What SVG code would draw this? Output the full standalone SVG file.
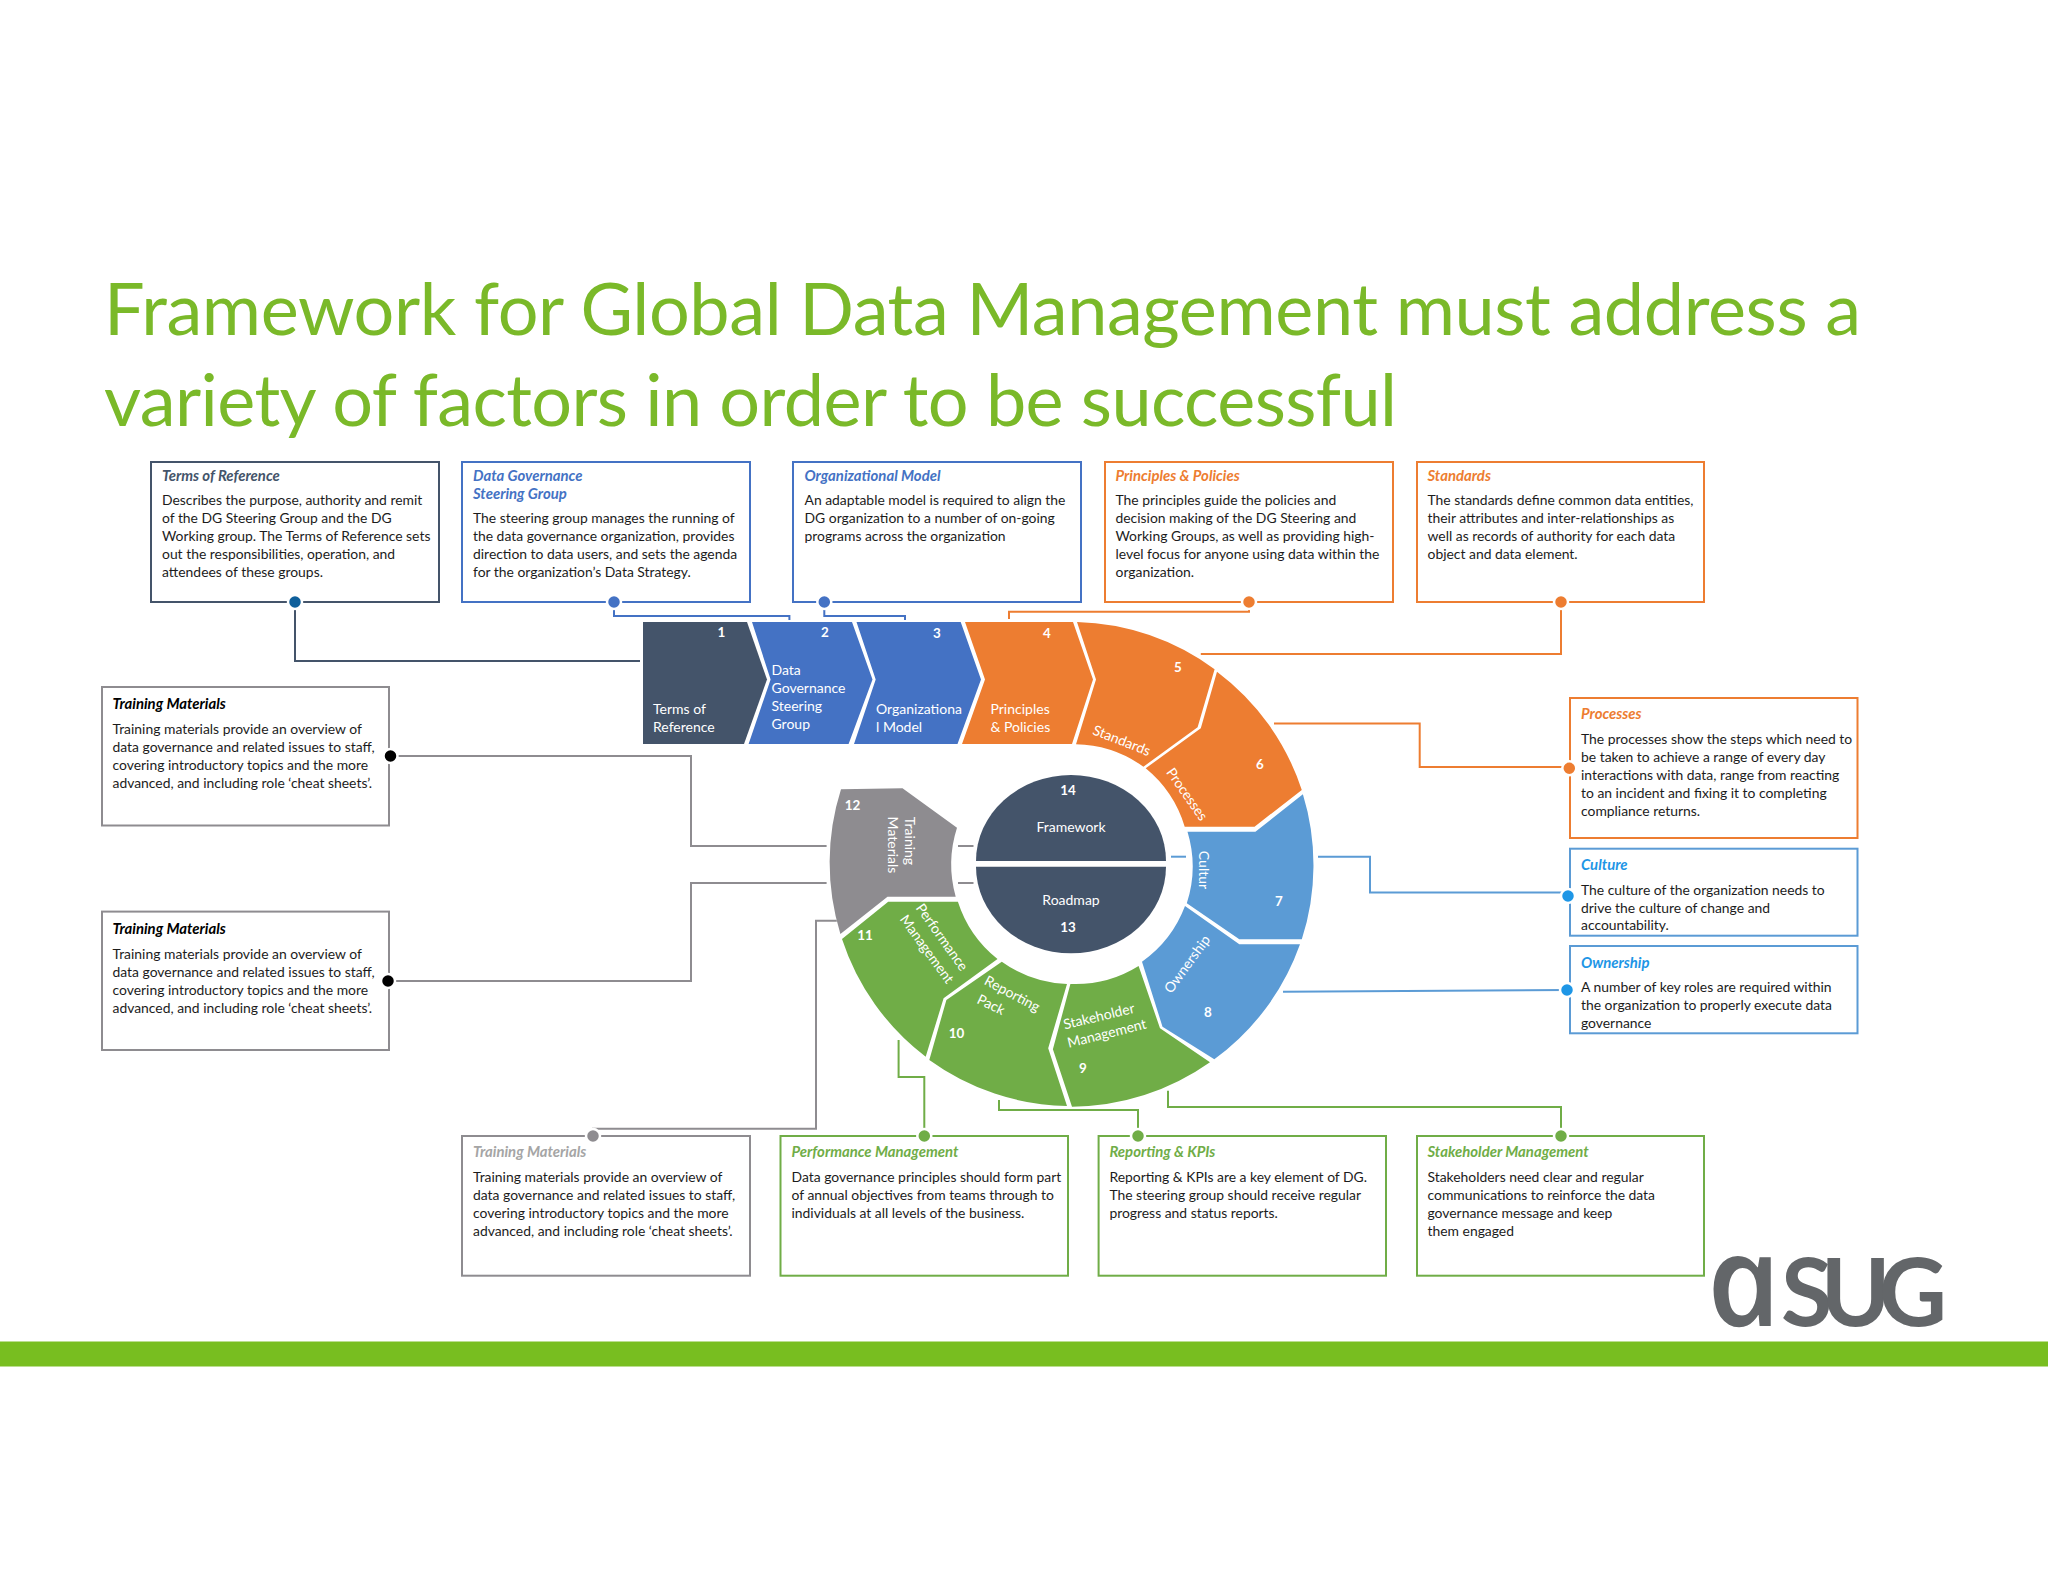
<svg xmlns="http://www.w3.org/2000/svg" width="2048" height="1582" viewBox="0 0 2048 1582">
<style>
text{font-family:"Lato","Carlito","Open Sans",sans-serif}
.title{font-size:72px;fill:#7AB929}
.b{font-size:13.9px;fill:#1c1c1c}
.h{font-size:14.9px;font-weight:700;font-style:italic}
.l{font-size:14px;fill:#fff}
.n{font-size:13.4px;fill:#fff;font-weight:700}
.m{text-anchor:middle}
.box{fill:#fff;stroke-width:2}
.c{fill:none;stroke-width:2}
.dot{stroke:#fff;stroke-width:2.5}
.dk{stroke:#44546A}.bl{stroke:#4472C4}.or{stroke:#ED7D31}.lb{stroke:#5B9BD5}.gr{stroke:#70AD47}.gy{stroke:#8E8C90}
.fdk{fill:#44546A}.fbl{fill:#4472C4}.for{fill:#ED7D31}.flb{fill:#5B9BD5}.fgr{fill:#70AD47}.fgy{fill:#8E8C90}
</style>
<rect width="2048" height="1582" fill="#fff"/>
<g id="title">
<text class="title" x="104" y="334.500" textLength="1757" lengthAdjust="spacing">Framework for Global Data Management must address a</text>
<text class="title" x="104" y="425.500" textLength="1293" lengthAdjust="spacing">variety of factors in order to be successful</text>
</g>
<rect id="footer-bar" x="0" y="1341.5" width="2048" height="25" fill="#78BE20"/>

<g id="connectors">
<path class="c dk" d="M295 602V661H640"/>
<path class="c bl" d="M614 602V616H789.4V620"/>
<path class="c bl" d="M824.3 602V616H905V620"/>
<path class="c or" d="M1249 602V611.7H1009V619"/>
<path class="c or" d="M1561 602V654H1200.8"/>
<path class="c or" d="M1274 723.5H1419.7V767H1569"/>
<path class="c lb" d="M1318 856.7H1370V892.5H1568"/>
<path class="c lb" d="M1171 856.7H1186"/>
<path class="c lb" d="M1283 991.7L1567 990"/>
<path class="c gy" d="M390.5 756H691V846H826.6"/>
<path class="c gy" d="M958 846H973.5"/>
<path class="c gy" d="M388 981H691V883H826.6"/>
<path class="c gy" d="M958 883H973.5"/>
<path class="c gy" d="M593 1136V1128.7H816V920.7H836.8"/>
<path class="c gr" d="M924.3 1136V1077H898.6V1040"/>
<path class="c gr" d="M1138 1136V1110H999V1100"/>
<path class="c gr" d="M1561 1136V1107H1168V1090.7"/>
</g>

<g id="segment-1"><path class="fdk" d="M643 622H747L767 679.5L744 744H643Z"/>
<text class="n m" x="721.5" y="636.7">1</text><text class="l" x="653" y="714">Terms of</text><text class="l" x="653" y="731.7">Reference</text></g>
<g id="segment-2"><path class="fbl" d="M752 622H852L872.5 679.5L848.6 744H748.6L770.6 679.5Z"/>
<text class="n m" x="825" y="636.7">2</text><text class="l" x="771.5" y="675">Data</text><text class="l" x="771.5" y="693.3">Governance</text><text class="l" x="771.5" y="711">Steering</text><text class="l" x="771.5" y="729">Group</text></g>
<g id="segment-3"><path class="fbl" d="M856.5 622H960.7L981 679.5L957.5 744H854L875.7 679.5Z"/>
<text class="n m" x="936.8" y="637.7">3</text><text class="l" x="876" y="714">Organizationa</text><text class="l" x="876" y="731.7">l Model</text></g>
<g id="segment-4"><path class="for" d="M965 622H1073L1093 679.5L1072 744H962L985 679.5Z"/>
<text class="n m" x="1047" y="637.7">4</text><text class="l" x="990.5" y="714">Principles</text><text class="l" x="990.5" y="731.7">&amp; Policies</text></g>
<g id="segment-5"><path class="for" d="M1077 622A242 242 0 0 1 1214.6 669.3L1197.6 727.3L1143.4 766.7A120 120 0 0 0 1076 744.3L1096 679.5Z"/>
<text class="n m" x="1177.8" y="672.3">5</text><text class="l m" transform="translate(1120 745) rotate(21.5)">Standards</text></g>
<g id="segment-6"><path class="for" d="M1217 671.7A242 242 0 0 1 1301.8 790L1254.5 826.7H1184.7A120 120 0 0 0 1145.7 768.3L1200.8 728.3Z"/>
<text class="n m" x="1260" y="769">6</text><text class="l m" transform="translate(1183 797) rotate(55)">Processes</text></g>
<g id="segment-7"><path class="flb" d="M1302.9 794.3A242 242 0 0 1 1301.8 939.3H1239.3L1186.8 903.3A120 120 0 0 0 1187.5 831.7H1255.4Z"/>
<text class="n m" x="1279" y="906">7</text><text class="l m" transform="translate(1199 870) rotate(90)">Cultur</text></g>
<g id="segment-8"><path class="flb" d="M1185 906L1239.3 944.3H1300A242 242 0 0 1 1214.3 1059.3L1162.5 1026.7L1142 961.7A120 120 0 0 0 1185 906Z"/>
<text class="n m" x="1208" y="1016.7">8</text><text class="l m" transform="translate(1191 967) rotate(-54)">Ownership</text></g>
<g id="segment-9"><path class="fgr" d="M1138.6 966L1160 1028.3L1210 1062.3A242 242 0 0 1 1072 1106.7L1052.9 1049.3L1070.4 984A120 120 0 0 0 1138.6 966Z"/>
<text class="n m" x="1083" y="1073">9</text><text class="l m" transform="translate(1100 1021) rotate(-13.5)">Stakeholder</text><text class="l m" transform="translate(1108 1038) rotate(-14)">Management</text></g>
<g id="segment-10"><path class="fgr" d="M1067 984L1048.2 1048.3L1067 1106A242 242 0 0 1 929.3 1060L946.4 1000L1001.8 961.7A120 120 0 0 0 1067 984Z"/>
<text class="n m" x="956.4" y="1037.7">10</text><text class="l m" transform="translate(1010 998) rotate(28)">Reporting</text><text class="l m" transform="translate(989 1009) rotate(26)">Pack</text></g>
<g id="segment-11"><path class="fgr" d="M997.5 959L943.6 998.3L925.7 1056.7A242 242 0 0 1 842 939L888.2 901.7H957.9A120 120 0 0 0 997.5 959Z"/>
<text class="n m" x="865" y="940">11</text><text class="l m" transform="translate(938 940) rotate(54.5)">Performance</text><text class="l m" transform="translate(923 952) rotate(54)">Management</text></g>
<g id="segment-12"><path class="fgy" d="M841 789.3L902.5 788.3L957 827.7A120 120 0 0 0 955.7 896.7H887.5L840.4 934A242 242 0 0 1 841 789.3Z"/>
<text class="n m" x="852.5" y="810">12</text><text class="l m" transform="translate(905 841) rotate(90)">Training</text><text class="l m" transform="translate(888 845) rotate(90)">Materials</text></g>
<g id="centre-framework"><path class="fdk" d="M976 861A95 86 0 0 1 1166 861Z"/>
<text class="n m" x="1068" y="794.7">14</text><text class="l m" x="1071" y="832">Framework</text></g>
<g id="centre-roadmap"><path class="fdk" d="M976 866.7A95 86.6 0 0 0 1166 866.7Z"/>
<text class="n m" x="1068" y="932">13</text><text class="l m" x="1071" y="905">Roadmap</text></g>

<g id="box-terms"><rect class="box dk" x="151" y="462" width="288" height="140"/><circle class="dot" cx="295" cy="602" r="7" fill="#0F5F9B"/>
<text class="h" fill="#44546A" x="162" y="481">Terms of Reference</text>
<text class="b" x="162" y="505">Describes the purpose, authority and remit</text><text class="b" x="162" y="523">of the DG Steering Group and the DG</text><text class="b" x="162" y="541">Working group. The Terms of Reference sets</text><text class="b" x="162" y="559">out the responsibilities, operation, and</text><text class="b" x="162" y="577">attendees of these groups.</text></g>
<g id="box-steering"><rect class="box bl" x="462" y="462" width="288" height="140"/><circle class="dot" cx="614" cy="602" r="7" fill="#4472C4"/>
<text class="h" fill="#4472C4" x="473" y="481">Data Governance</text><text class="h" fill="#4472C4" x="473" y="499">Steering Group</text>
<text class="b" x="473" y="523">The steering group manages the running of</text><text class="b" x="473" y="541">the data governance organization, provides</text><text class="b" x="473" y="559">direction to data users, and sets the agenda</text><text class="b" x="473" y="577">for the organization’s Data Strategy.</text></g>
<g id="box-org"><rect class="box bl" x="793" y="462" width="288" height="140"/><circle class="dot" cx="824.3" cy="602" r="7" fill="#4472C4"/>
<text class="h" fill="#4472C4" x="804.5" y="481">Organizational Model</text>
<text class="b" x="804.5" y="505">An adaptable model is required to align the</text><text class="b" x="804.5" y="523">DG organization to a number of on-going</text><text class="b" x="804.5" y="541">programs across the organization</text></g>
<g id="box-principles"><rect class="box or" x="1105" y="462" width="288" height="140"/><circle class="dot" cx="1249" cy="602" r="7" fill="#ED7D31"/>
<text class="h" fill="#ED7D31" x="1115.5" y="481">Principles &amp; Policies</text>
<text class="b" x="1115.5" y="505">The principles guide the policies and</text><text class="b" x="1115.5" y="523">decision making of the DG Steering and</text><text class="b" x="1115.5" y="541">Working Groups, as well as providing high-</text><text class="b" x="1115.5" y="559">level focus for anyone using data within the</text><text class="b" x="1115.5" y="577">organization.</text></g>
<g id="box-standards"><rect class="box or" x="1417" y="462" width="287" height="140"/><circle class="dot" cx="1561" cy="602" r="7" fill="#ED7D31"/>
<text class="h" fill="#ED7D31" x="1427.5" y="481">Standards</text>
<text class="b" x="1427.5" y="505">The standards define common data entities,</text><text class="b" x="1427.5" y="523">their attributes and inter-relationships as</text><text class="b" x="1427.5" y="541">well as records of authority for each data</text><text class="b" x="1427.5" y="559">object and data element.</text></g>
<g id="box-processes"><rect class="box or" x="1570" y="698" width="287.500" height="140"/><circle class="dot" cx="1569.300" cy="768.300" r="7" fill="#ED7D31"/>
<text class="h" fill="#ED7D31" x="1581" y="719.300">Processes</text>
<text class="b" x="1581" y="744.300">The processes show the steps which need to</text><text class="b" x="1581" y="762.300">be taken to achieve a range of every day</text><text class="b" x="1581" y="780">interactions with data, range from reacting</text><text class="b" x="1581" y="798">to an incident and fixing it to completing</text><text class="b" x="1581" y="816">compliance returns.</text></g>
<g id="box-culture"><rect class="box lb" x="1570" y="848.700" width="287.500" height="87"/><circle class="dot" cx="1568" cy="896" r="7" fill="#1E96E6"/>
<text class="h" fill="#1E96E6" x="1581" y="870">Culture</text>
<text class="b" x="1581" y="894.700">The culture of the organization needs to</text><text class="b" x="1581" y="912.500">drive the culture of change and</text><text class="b" x="1581" y="930">accountability.</text></g>
<g id="box-ownership"><rect class="box lb" x="1570" y="946" width="287.500" height="87.300"/><circle class="dot" cx="1567" cy="990" r="7" fill="#1E96E6"/>
<text class="h" fill="#1E96E6" x="1581" y="967.700">Ownership</text>
<text class="b" x="1581" y="992.300">A number of key roles are required within</text><text class="b" x="1581" y="1010">the organization to properly execute data</text><text class="b" x="1581" y="1028">governance</text></g>
<g id="box-training-a"><rect class="box gy" x="102" y="687" width="287" height="138.500"/><circle class="dot" cx="390.500" cy="756" r="7" fill="#000"/>
<text class="h" fill="#000" x="112.500" y="709">Training Materials</text>
<text class="b" x="112.500" y="734">Training materials provide an overview of</text><text class="b" x="112.500" y="752">data governance and related issues to staff,</text><text class="b" x="112.500" y="770">covering introductory topics and the more</text><text class="b" x="112.500" y="788">advanced, and including role ‘cheat sheets’.</text></g>
<g id="box-training-b"><rect class="box gy" x="102" y="911.600" width="287" height="138.400"/><circle class="dot" cx="388" cy="981" r="7" fill="#000"/>
<text class="h" fill="#000" x="112.500" y="934">Training Materials</text>
<text class="b" x="112.500" y="958.500">Training materials provide an overview of</text><text class="b" x="112.500" y="976.500">data governance and related issues to staff,</text><text class="b" x="112.500" y="994.500">covering introductory topics and the more</text><text class="b" x="112.500" y="1012.500">advanced, and including role ‘cheat sheets’.</text></g>
<g id="box-training-c"><rect class="box gy" x="462" y="1136" width="288" height="139.700"/><circle class="dot" cx="593" cy="1136" r="7" fill="#8E8C90"/>
<text class="h" fill="#A5A5A5" x="473" y="1157.300">Training Materials</text>
<text class="b" x="473" y="1182.300">Training materials provide an overview of</text><text class="b" x="473" y="1200">data governance and related issues to staff,</text><text class="b" x="473" y="1218">covering introductory topics and the more</text><text class="b" x="473" y="1236">advanced, and including role ‘cheat sheets’.</text></g>
<g id="box-performance"><rect class="box gr" x="780.500" y="1136" width="287.500" height="139.700"/><circle class="dot" cx="924.300" cy="1136" r="7" fill="#70AD47"/>
<text class="h" fill="#70AD47" x="791.500" y="1157.300">Performance Management</text>
<text class="b" x="791.500" y="1182.300">Data governance principles should form part</text><text class="b" x="791.500" y="1200">of annual objectives from teams through to</text><text class="b" x="791.500" y="1218">individuals at all levels of the business.</text></g>
<g id="box-reporting"><rect class="box gr" x="1098.600" y="1136" width="287.400" height="139.700"/><circle class="dot" cx="1138" cy="1136" r="7" fill="#70AD47"/>
<text class="h" fill="#70AD47" x="1109.400" y="1157.300">Reporting &amp; KPIs</text>
<text class="b" x="1109.400" y="1182.300">Reporting &amp; KPIs are a key element of DG.</text><text class="b" x="1109.400" y="1200">The steering group should receive regular</text><text class="b" x="1109.400" y="1218">progress and status reports.</text></g>
<g id="box-stakeholder"><rect class="box gr" x="1417" y="1136" width="287" height="139.700"/><circle class="dot" cx="1561" cy="1136" r="7" fill="#70AD47"/>
<text class="h" fill="#70AD47" x="1427.500" y="1157.300">Stakeholder Management</text>
<text class="b" x="1427.500" y="1182.300">Stakeholders need clear and regular</text><text class="b" x="1427.500" y="1200">communications to reinforce the data</text><text class="b" x="1427.500" y="1218">governance message and keep</text><text class="b" x="1427.500" y="1236">them engaged</text></g>

<g id="logo" fill="#636669">
<text transform="translate(1714 1326) skewX(12)" style="font-family:'Open Sans',sans-serif;font-style:italic" font-size="127" font-weight="600">a</text>
<text x="1781" y="1326" font-size="94" font-weight="700" textLength="166" lengthAdjust="spacing">SUG</text>
</g>
</svg>
